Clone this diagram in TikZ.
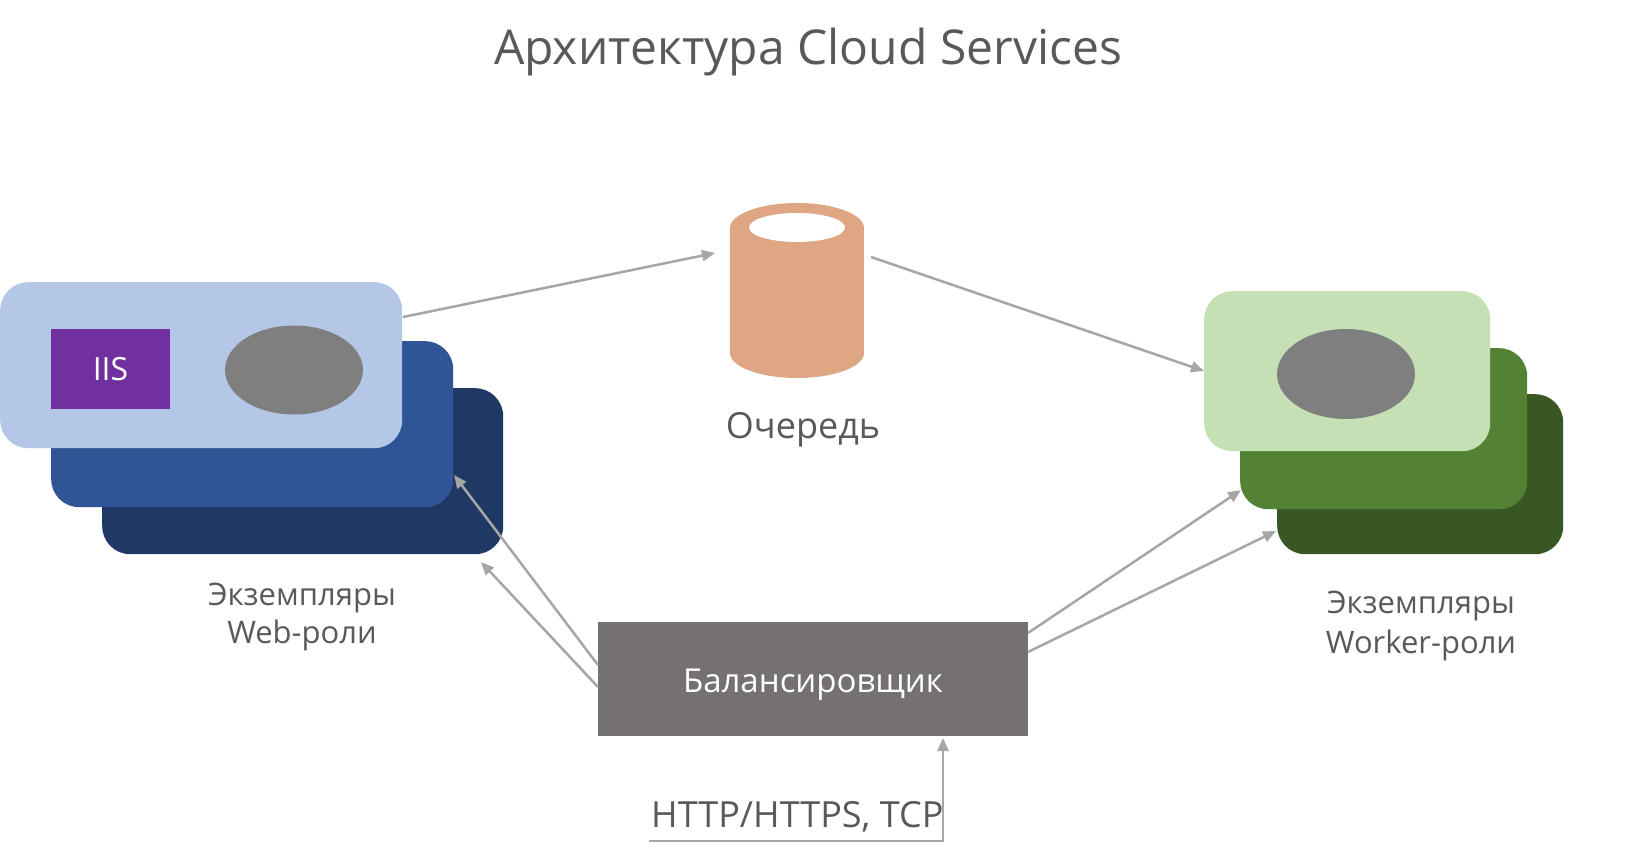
\documentclass[tikz,border=0pt]{standalone}
\usepackage{fontspec}
\setmainfont{Open Sans}
\usetikzlibrary{arrows.meta,calc,shapes.geometric}
\definecolor{txt}{HTML}{595959}
\definecolor{arr}{HTML}{A6A6A6}
\definecolor{blueA}{HTML}{B4C7E7}
\definecolor{blueB}{HTML}{2F5597}
\definecolor{blueC}{HTML}{203864}
\definecolor{grnA}{HTML}{C5E0B4}
\definecolor{grnB}{HTML}{548235}
\definecolor{grnC}{HTML}{385723}
\definecolor{iis}{HTML}{7030A0}
\definecolor{ell}{HTML}{7F7F7F}
\definecolor{cyl}{HTML}{DFA683}
\definecolor{bal}{HTML}{767171}
\begin{document}
\begin{tikzpicture}[x=1pt,y=-1pt,
  card/.style={rectangle,rounded corners=28pt,anchor=north west,inner sep=0pt,minimum width=#1},
  flow/.style={draw=arr,line width=2.5pt,-{Triangle[length=13pt,width=11pt]}},
  lbl/.style={text=txt,inner sep=0pt,align=center},
]
\useasboundingbox[fill=white] (0,0) rectangle (1630,856);

% title
\node[lbl,anchor=base,font=\fontsize{48}{56}\selectfont] (title) at (808,65) {Архитектура Cloud Services};

% web role stack
\node[card=401pt,minimum height=166pt,fill=blueC] (wb3) at (102,388) {};
\node[card=402pt,minimum height=166pt,fill=blueB] (wb2) at (51,341) {};
\node[card=402pt,minimum height=166pt,fill=blueA] (wb1) at (0,282) {};
\node[rectangle,fill=iis,minimum width=119pt,minimum height=80pt,inner sep=0pt,text=white,font=\fontsize{32}{32}\selectfont] (iis) at (110.5,369) {IIS};
\node[ellipse,fill=ell,minimum width=138pt,minimum height=89pt,inner sep=0pt] (wbell) at (294,370) {};

% worker role stack
\node[card=286pt,minimum height=160pt,fill=grnC] (wk3) at (1277,394) {};
\node[card=287pt,minimum height=161pt,fill=grnB] (wk2) at (1240,348) {};
\node[card=286pt,minimum height=160pt,fill=grnA] (wk1) at (1204,291) {};
\node[ellipse,fill=ell,minimum width=138pt,minimum height=90pt,inner sep=0pt] (wkell) at (1346,374) {};

% queue cylinder
\fill[cyl] (730,228) rectangle (864,353);
\fill[cyl] (797,353) ellipse [x radius=67pt,y radius=25pt];
\fill[cyl] (797,228) ellipse [x radius=67pt,y radius=25pt];
\fill[white] (797,227.5) ellipse [x radius=48pt,y radius=14.5pt];
\node[inner sep=0pt,minimum width=134pt,minimum height=175pt] (queue) at (797,290.5) {};
\node[lbl,anchor=base,font=\fontsize{36}{36}\selectfont] (qlbl) at (803,438) {Очередь};

% labels (base anchor = last line)
\node[lbl,anchor=base,font=\fontsize{31}{38}\selectfont] (wblbl) at (302,643) {Экземпляры\\Web-роли};
\node[lbl,anchor=base,font=\fontsize{31}{40}\selectfont] (wklbl) at (1421,653) {Экземпляры\\Worker-роли};

% balancer
\node[rectangle,fill=bal,minimum width=430pt,minimum height=114pt,inner sep=0pt] (bal) at (813,679) {};
\node[anchor=base,inner sep=0pt,text=white,font=\fontsize{33}{33}\selectfont] (ballbl) at (813,692) {Балансировщик};

% input
\node[lbl,anchor=base west,font=\fontsize{36}{36}\selectfont] (http) at (651,827) {HTTP/HTTPS, TCP};

% connector points
\coordinate (p1) at (403,317);
\coordinate (p2) at (715,253);
\coordinate (p3) at (871,257);
\coordinate (p4) at (1204,371);
\coordinate (b1) at (598,665);
\coordinate (t1) at (454,475);
\coordinate (b2) at (598,687);
\coordinate (t2) at (481,562);
\coordinate (b3) at (1028,633);
\coordinate (t3) at (1241,490);
\coordinate (b4) at (1028,652);
\coordinate (t4) at (1276,531);
\coordinate (inA) at (649,841);
\coordinate (inB) at (943,841);
\coordinate (inC) at (943,738);

\draw[flow] (p1) -- (p2);
\draw[flow] (p3) -- (p4);
\draw[flow] (b1) -- (t1);
\draw[flow] (b2) -- (t2);
\draw[flow] (b3) -- (t3);
\draw[flow] (b4) -- (t4);
\draw[flow] (inA) -- (inB) -- (inC);
\end{tikzpicture}
\end{document}
